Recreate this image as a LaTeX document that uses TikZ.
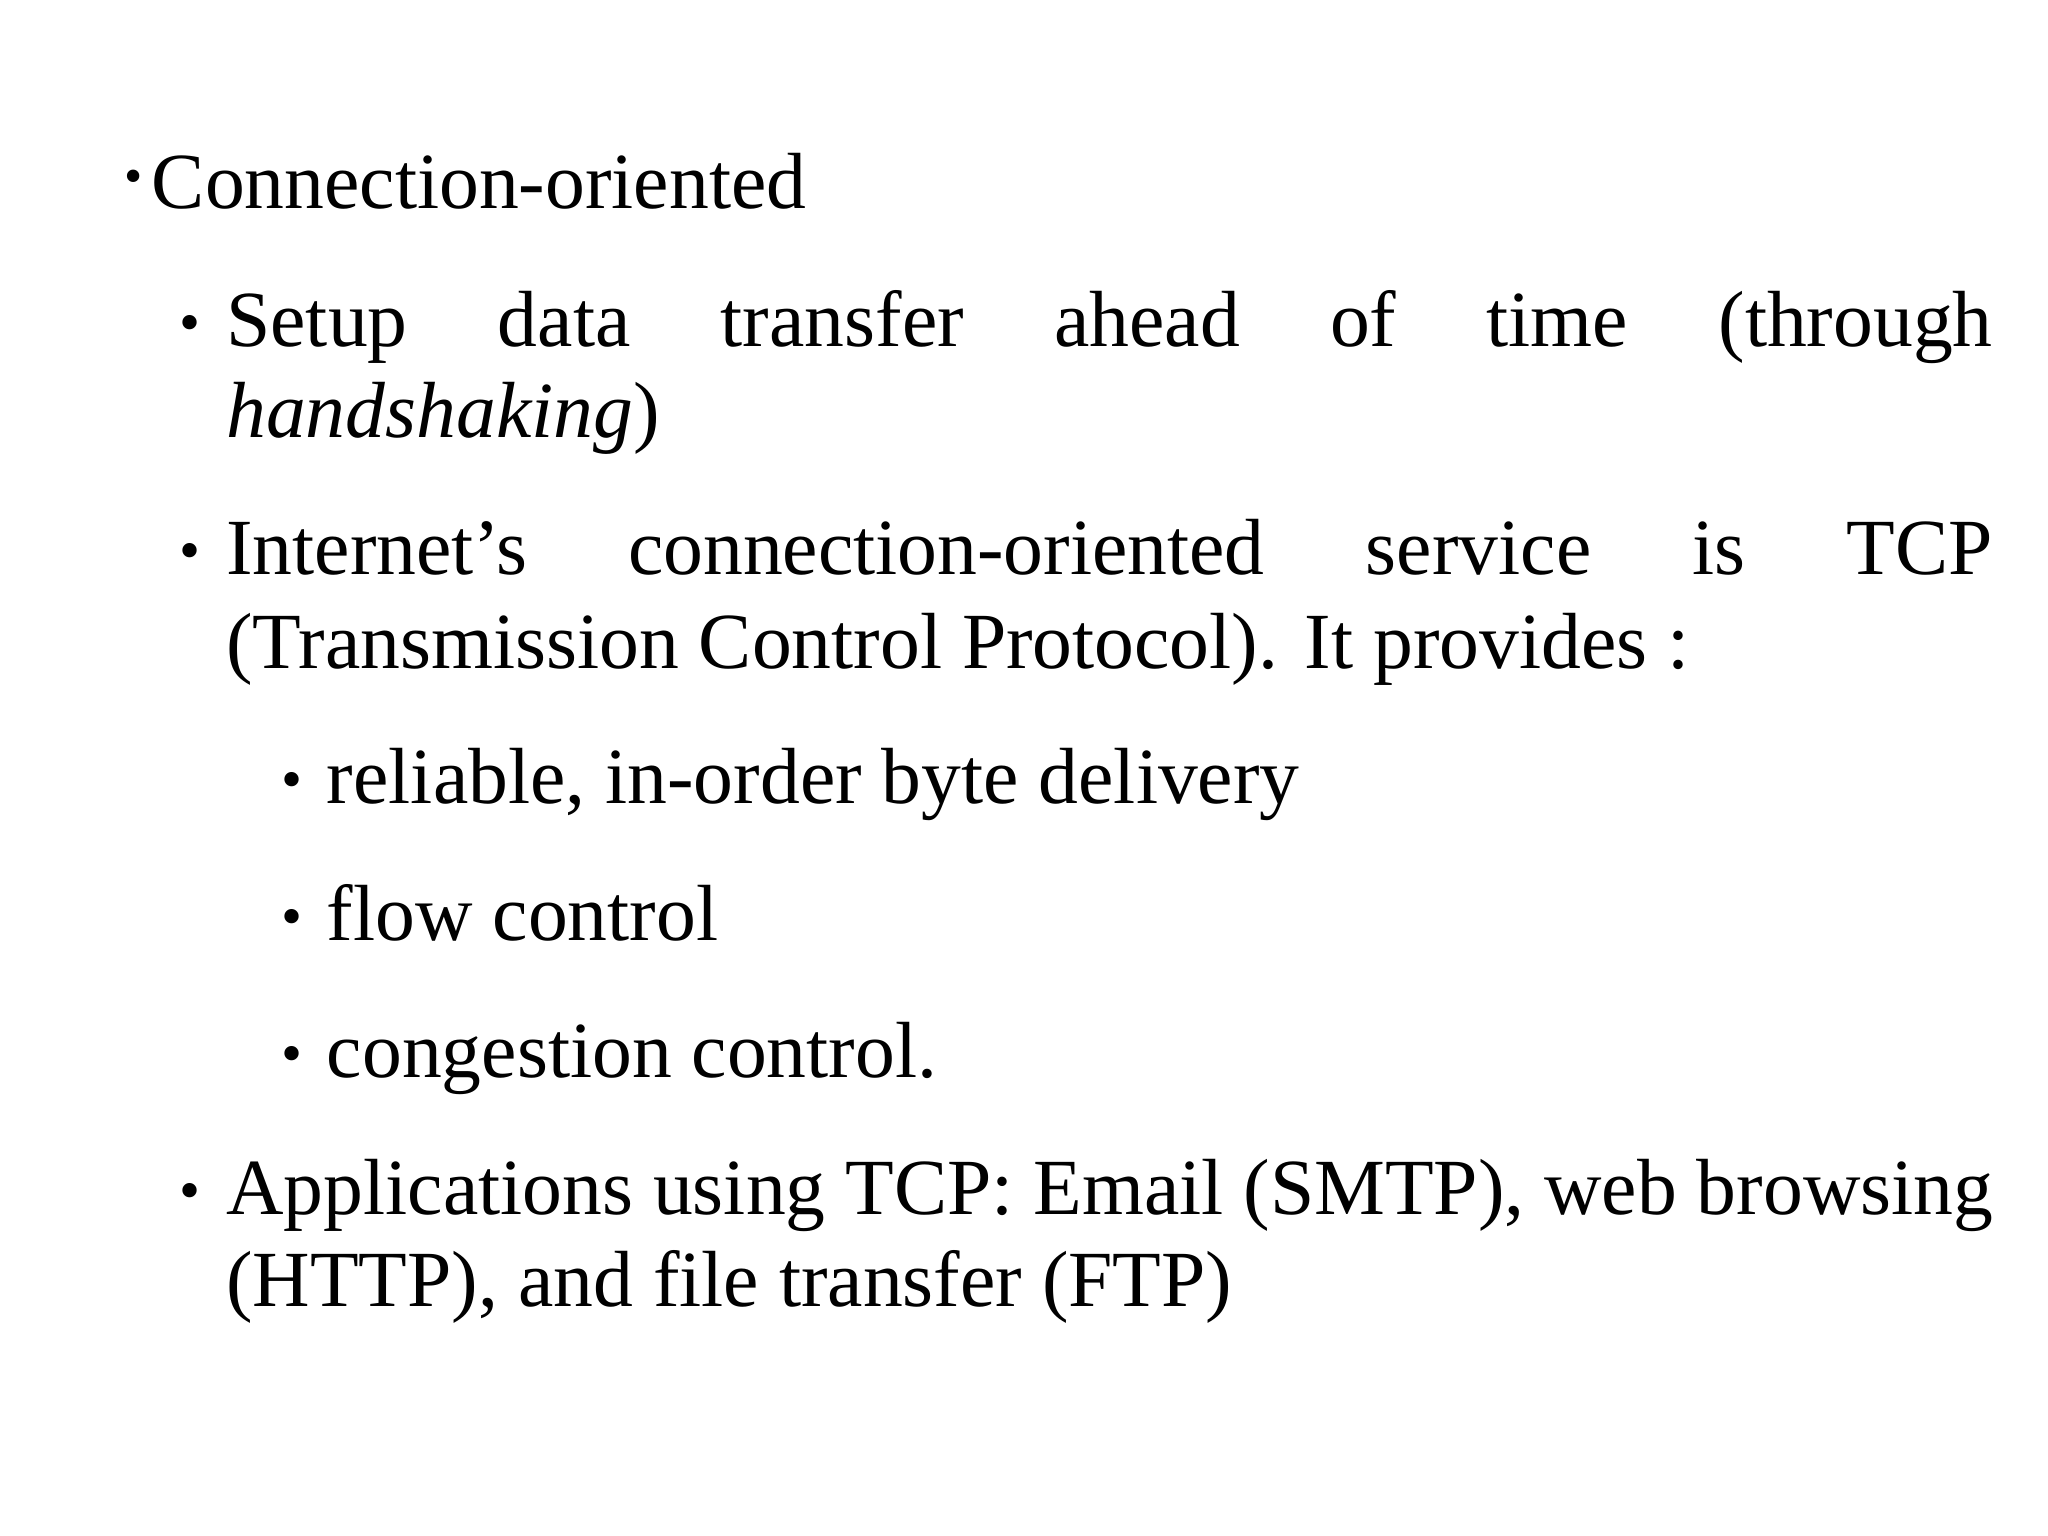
\documentclass[tikz,border=0pt]{standalone}
\usepackage{fontspec}
\setmainfont{Liberation Serif}
\begin{document}
\begin{tikzpicture}[x=0.653pt,y=-0.653pt,
  txt/.style={anchor=base west,inner sep=0pt,font=\fontsize{39.8}{46}\selectfont},
  bul/.style={anchor=base west,inner sep=0pt,font=\fontsize{30}{34}\selectfont},
  bulz/.style={anchor=base west,inner sep=0pt,font=\fontsize{26}{30}\selectfont}]
\useasboundingbox[fill=white] (0,0) rectangle (1568,1176);
\node[bulz] (b0) at (95,148) {•};
\node[txt] (t0) at (116,160) {Connection-oriented};
\node[bul] (b1) at (137,262) {•};
\node[txt] (t1) at (173,265) {\makebox[883pt][s]{Setup data transfer ahead of time (through}};
\node[txt] (t1b) at (173,335) {\textit{handshaking})};
\node[bul] (b2) at (137,437) {•};
\node[txt] (t2) at (173,440) {\makebox[883pt][s]{Internet’s connection-oriented service is TCP}};
\node[txt] (t2b) at (173,512) {(Transmission Control Protocol). It provides :};
\node[bul] (b3) at (215,612) {•};
\node[txt] (t3) at (250,615) {reliable, in-order byte delivery};
\node[bul] (b4) at (215,717) {•};
\node[txt] (t4) at (250,720) {flow control};
\node[bul] (b5) at (215,822) {•};
\node[txt] (t5) at (250,825) {congestion control.};
\node[bul] (b6) at (137,927) {•};
\node[txt] (t6) at (173,930) {Applications using TCP: Email (SMTP), web browsing};
\node[txt] (t6b) at (173,1000) {(HTTP), and file transfer (FTP)};
\end{tikzpicture}
\end{document}
